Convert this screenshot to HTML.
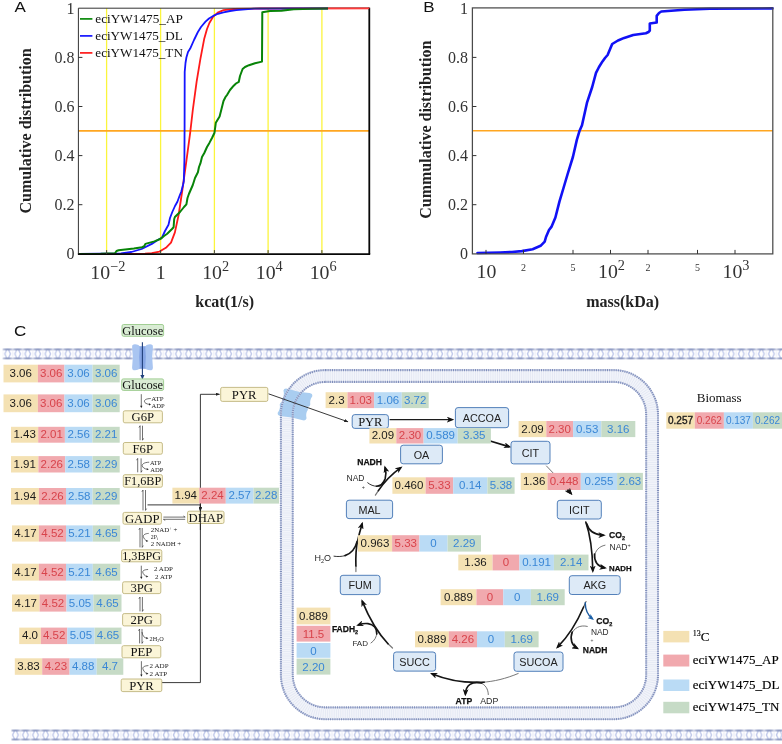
<!DOCTYPE html>
<html><head><meta charset="utf-8"><title>Figure</title>
<style>
html,body{margin:0;padding:0;background:#fff;}
svg{display:block;}
.se{font-family:"Liberation Serif",serif;}
.sa{font-family:"Liberation Sans",sans-serif;}
</style></head><body>
<svg width="782" height="744" viewBox="0 0 782 744">
<defs>
<marker id="ah" viewBox="0 0 10 8" refX="6.5" refY="4" markerWidth="7.4" markerHeight="5.9" markerUnits="userSpaceOnUse" orient="auto"><path d="M0,0 L10,4 L0,8 L2.6,4 z" fill="#111"/></marker>
<marker id="ahb" viewBox="0 0 10 8" refX="6.5" refY="4" markerWidth="6.4" markerHeight="5.1" markerUnits="userSpaceOnUse" orient="auto"><path d="M0,0 L10,4 L0,8 L2.6,4 z" fill="#1b5fa6"/></marker>
<marker id="as" viewBox="0 0 10 8" refX="9" refY="4" markerWidth="4.2" markerHeight="3.4" markerUnits="userSpaceOnUse" orient="auto"><path d="M0,0 L10,4 L0,8 z" fill="#222"/></marker>
<marker id="at" viewBox="0 0 10 8" refX="9" refY="4" markerWidth="2.6" markerHeight="2.2" markerUnits="userSpaceOnUse" orient="auto"><path d="M0,0 L10,4 L0,8 z" fill="#222"/></marker>
<pattern id="mem" x="2.6" y="348.4" width="10.05" height="11" patternUnits="userSpaceOnUse">
<path d="M4.15,1.5 L2.2,5.5 L4.15,9.5 M5.9,1.5 L7.85,5.5 L5.9,9.5" fill="none" stroke="#bcc5e9" stroke-width="1.3" stroke-linejoin="round"/>
<path d="M0,2.4 V8.6 M10.05,2.4 V8.6" fill="none" stroke="#eef0f9" stroke-width="1.4"/>
<ellipse cx="5.02" cy="1.0" rx="5.3" ry="0.85" fill="#7180b2"/><ellipse cx="5.02" cy="10.0" rx="5.3" ry="0.85" fill="#7180b2"/>
</pattern>
<pattern id="mem2" x="10.4" y="729.5" width="10.05" height="11" patternUnits="userSpaceOnUse">
<path d="M4.15,1.5 L2.2,5.5 L4.15,9.5 M5.9,1.5 L7.85,5.5 L5.9,9.5" fill="none" stroke="#bcc5e9" stroke-width="1.3" stroke-linejoin="round"/>
<path d="M0,2.4 V8.6 M10.05,2.4 V8.6" fill="none" stroke="#eef0f9" stroke-width="1.4"/>
<ellipse cx="5.02" cy="1.0" rx="5.3" ry="0.85" fill="#7180b2"/><ellipse cx="5.02" cy="10.0" rx="5.3" ry="0.85" fill="#7180b2"/>
</pattern>
</defs>
<rect width="782" height="744" fill="#fff"/>

<g id="plotA">
<line x1="106.6" y1="8.2" x2="106.6" y2="254.1" stroke="#fbf53c" stroke-width="1.3"/>
<line x1="160.6" y1="8.2" x2="160.6" y2="254.1" stroke="#fbf53c" stroke-width="1.3"/>
<line x1="214.4" y1="8.2" x2="214.4" y2="254.1" stroke="#fbf53c" stroke-width="1.3"/>
<line x1="268.1" y1="8.2" x2="268.1" y2="254.1" stroke="#fbf53c" stroke-width="1.3"/>
<line x1="321.9" y1="8.2" x2="321.9" y2="254.1" stroke="#fbf53c" stroke-width="1.3"/>
<line x1="78.4" y1="130.9" x2="369.3" y2="130.9" stroke="#ffa620" stroke-width="1.6"/>
<polyline points="79.0,253.9 145.0,253.7 151.8,253.2 159.5,251.6 165.9,247.8 171.0,242.6 174.9,232.4 178.7,214.5 182.5,189.0 186.4,160.8 190.2,132.7 192.8,110.0 196.6,81.8 200.4,58.8 204.3,38.4 207.0,29.0 209.4,23.0 213.2,16.6 218.3,12.3 223.5,10.2 233.7,9.0 260.0,8.5 369.5,8.4" fill="none" stroke="#ff1a1a" stroke-width="1.8" stroke-linejoin="round"/>
<polyline points="79.0,253.9 121.0,253.5 131.4,252.0 141.6,249.0 151.8,243.9 157.0,240.5 162.0,237.5 165.0,231.0 168.5,224.7 170.0,218.0 172.3,212.0 175.0,206.0 177.4,201.7 179.5,196.0 181.3,191.5 183.0,185.0 183.8,181.3 184.4,160.0 184.6,125.0 184.7,72.0 185.5,63.0 186.4,57.5 188.0,52.0 190.2,48.6 194.0,40.0 197.9,32.0 201.0,27.0 205.5,21.7 209.0,18.5 213.2,15.9 218.0,13.8 223.5,12.3 230.0,11.0 236.2,10.2 245.0,9.3 254.0,8.7 300.0,8.5 328.0,8.5" fill="none" stroke="#1515ff" stroke-width="1.8" stroke-linejoin="round"/>
<polyline points="79.0,253.9 100.7,253.7 115.0,253.2 116.5,251.0 118.6,250.3 133.9,248.5 142.0,247.2 144.2,246.3 145.4,243.9 154.4,241.4 160.8,238.8 164.0,236.0 167.2,233.7 172.0,229.0 173.6,227.3 174.2,219.0 174.9,217.0 180.0,212.0 184.0,207.0 186.4,204.3 187.5,198.0 188.9,194.0 192.8,185.0 195.0,178.0 197.9,172.3 199.0,167.0 200.4,163.4 202.0,157.0 204.3,153.0 207.0,147.0 209.4,142.9 212.0,138.0 214.5,132.7 215.8,122.8 219.6,116.4 221.5,109.0 223.5,101.0 225.5,97.0 227.3,94.6 230.0,90.0 233.7,85.7 236.0,83.5 238.8,81.8 240.0,76.0 242.6,69.0 245.0,67.0 249.0,65.2 255.0,63.2 262.0,61.6 262.3,12.2 270.0,11.0 281.5,10.7 293.8,9.3 312.0,8.7 328.0,8.5" fill="none" stroke="#088408" stroke-width="2" stroke-linejoin="round"/>
<path d="M78.4,254.1 V8.2 H369.3" fill="none" stroke="#333" stroke-width="1"/>
<path d="M77.9,254.1 H370.2" fill="none" stroke="#080808" stroke-width="1.8"/>
<path d="M369.3,254.1 V7.699999999999999" fill="none" stroke="#080808" stroke-width="1.8"/>
<line x1="328" y1="8.3" x2="369.3" y2="8.3" stroke="#ff3a3a" stroke-width="1.3"/>
<line x1="78.4" y1="204.7" x2="82.4" y2="204.7" stroke="#333" stroke-width="1"/>
<line x1="78.4" y1="155.6" x2="82.4" y2="155.6" stroke="#333" stroke-width="1"/>
<line x1="78.4" y1="106.5" x2="82.4" y2="106.5" stroke="#333" stroke-width="1"/>
<line x1="78.4" y1="57.4" x2="82.4" y2="57.4" stroke="#333" stroke-width="1"/>
<line x1="106.6" y1="254.1" x2="106.6" y2="250.1" stroke="#444" stroke-width="1"/>
<line x1="160.6" y1="254.1" x2="160.6" y2="250.1" stroke="#444" stroke-width="1"/>
<line x1="214.4" y1="254.1" x2="214.4" y2="250.1" stroke="#444" stroke-width="1"/>
<line x1="268.1" y1="254.1" x2="268.1" y2="250.1" stroke="#444" stroke-width="1"/>
<line x1="321.9" y1="254.1" x2="321.9" y2="250.1" stroke="#444" stroke-width="1"/>
<text class="se" x="74.6" y="259.4" font-size="16" text-anchor="end" fill="#333">0</text>
<text class="se" x="74.6" y="210.3" font-size="16" text-anchor="end" fill="#333">0.2</text>
<text class="se" x="74.6" y="161.2" font-size="16" text-anchor="end" fill="#333">0.4</text>
<text class="se" x="74.6" y="112.1" font-size="16" text-anchor="end" fill="#333">0.6</text>
<text class="se" x="74.6" y="63.0" font-size="16" text-anchor="end" fill="#333">0.8</text>
<text class="se" x="74.6" y="13.9" font-size="16" text-anchor="end" fill="#333">1</text>
<text class="se" x="107.8" y="278.6" font-size="19.8" text-anchor="middle" fill="#333">10<tspan font-size="14.3" dy="-7.6">−2</tspan></text>
<text class="se" x="215.6" y="278.6" font-size="19.8" text-anchor="middle" fill="#333">10<tspan font-size="14.3" dy="-7.6">2</tspan></text>
<text class="se" x="269.3" y="278.6" font-size="19.8" text-anchor="middle" fill="#333">10<tspan font-size="14.3" dy="-7.6">4</tspan></text>
<text class="se" x="323.09999999999997" y="278.6" font-size="19.8" text-anchor="middle" fill="#333">10<tspan font-size="14.3" dy="-7.6">6</tspan></text>
<text class="se" x="160.6" y="278.6" font-size="19.8" text-anchor="middle" fill="#333">1</text>
<text class="se" x="224.7" y="306.5" font-size="16" font-weight="bold" text-anchor="middle" fill="#222">kcat(1/s)</text>
<text class="se" transform="translate(31.2,130.9) rotate(-90)" font-size="16.05" font-weight="bold" text-anchor="middle" fill="#222">Cumulative distribution</text>
<text class="sa" transform="translate(14.4,11.8) scale(1.15,1)" font-size="14.8" fill="#111">A</text>
<line x1="80" y1="18.9" x2="92.4" y2="18.9" stroke="#0a8a0a" stroke-width="1.7"/>
<text class="se" x="95.3" y="23.2" font-size="12.9" fill="#111" textLength="87.6" lengthAdjust="spacingAndGlyphs">eciYW1475_AP</text>
<line x1="80" y1="35.900000000000006" x2="92.4" y2="35.900000000000006" stroke="#1515ff" stroke-width="1.7"/>
<text class="se" x="95.3" y="40.2" font-size="12.9" fill="#111" textLength="87.6" lengthAdjust="spacingAndGlyphs">eciYW1475_DL</text>
<line x1="80" y1="52.900000000000006" x2="92.4" y2="52.900000000000006" stroke="#ff1a1a" stroke-width="1.7"/>
<text class="se" x="95.3" y="57.2" font-size="12.9" fill="#111" textLength="87.6" lengthAdjust="spacingAndGlyphs">eciYW1475_TN</text>
</g>
<g id="plotB">
<line x1="472.4" y1="130.8" x2="772.8" y2="130.8" stroke="#ffa620" stroke-width="1.6"/>
<polyline points="477.5,253.0 500.3,252.5 512.0,252.0 521.8,251.1 532.6,249.2 540.6,245.8 544.7,241.7 546.0,237.0 547.4,233.7 549.0,230.0 551.4,226.9 555.4,217.5 559.5,201.4 563.5,188.0 567.5,174.5 572.9,157.0 576.9,139.6 579.6,130.7 582.0,125.3 587.1,102.3 592.2,87.0 596.0,72.9 599.0,67.0 602.5,61.4 605.0,58.0 607.6,55.0 612.2,44.0 618.0,40.5 624.2,37.9 633.2,35.0 645.9,33.2 648.5,32.0 649.8,30.7 649.8,23.5 656.7,22.5 656.7,15.9 659.0,13.0 661.3,11.5 684.3,9.7 709.9,8.7 772.5,8.4" fill="none" stroke="#1111f5" stroke-width="2.6" stroke-linejoin="round" stroke-linecap="round"/>
<rect x="472.4" y="7.9" width="300.4" height="246.0" fill="none" stroke="#4a4a4a" stroke-width="1.25"/>
<line x1="472.4" y1="204.7" x2="476.4" y2="204.7" stroke="#333" stroke-width="1"/>
<line x1="472.4" y1="155.6" x2="476.4" y2="155.6" stroke="#333" stroke-width="1"/>
<line x1="472.4" y1="106.5" x2="476.4" y2="106.5" stroke="#333" stroke-width="1"/>
<line x1="472.4" y1="57.4" x2="476.4" y2="57.4" stroke="#333" stroke-width="1"/>
<text class="se" x="468" y="259.4" font-size="16" text-anchor="end" fill="#333">0</text>
<text class="se" x="468" y="210.3" font-size="16" text-anchor="end" fill="#333">0.2</text>
<text class="se" x="468" y="161.2" font-size="16" text-anchor="end" fill="#333">0.4</text>
<text class="se" x="468" y="112.1" font-size="16" text-anchor="end" fill="#333">0.6</text>
<text class="se" x="468" y="63.0" font-size="16" text-anchor="end" fill="#333">0.8</text>
<text class="se" x="468" y="13.9" font-size="16" text-anchor="end" fill="#333">1</text>
<line x1="486.0" y1="253.9" x2="486.0" y2="249.9" stroke="#333" stroke-width="1"/>
<line x1="523.5" y1="253.9" x2="523.5" y2="249.9" stroke="#333" stroke-width="1"/>
<line x1="573.0" y1="253.9" x2="573.0" y2="249.9" stroke="#333" stroke-width="1"/>
<line x1="610.5" y1="253.9" x2="610.5" y2="249.9" stroke="#333" stroke-width="1"/>
<line x1="648.0" y1="253.9" x2="648.0" y2="249.9" stroke="#333" stroke-width="1"/>
<line x1="697.5" y1="253.9" x2="697.5" y2="249.9" stroke="#333" stroke-width="1"/>
<line x1="735.0" y1="253.9" x2="735.0" y2="249.9" stroke="#333" stroke-width="1"/>
<text class="se" x="486.5" y="277.7" font-size="19.8" text-anchor="middle" fill="#333">10</text>
<text class="se" x="611.5" y="277.7" font-size="19.8" text-anchor="middle" fill="#333">10<tspan font-size="14.3" dy="-7.6">2</tspan></text>
<text class="se" x="736.0" y="277.7" font-size="19.8" text-anchor="middle" fill="#333">10<tspan font-size="14.3" dy="-7.6">3</tspan></text>
<text class="se" x="523.5" y="270.5" font-size="10" text-anchor="middle" fill="#333">2</text>
<text class="se" x="573.0" y="270.5" font-size="10" text-anchor="middle" fill="#333">5</text>
<text class="se" x="648.0" y="270.5" font-size="10" text-anchor="middle" fill="#333">2</text>
<text class="se" x="697.5" y="270.5" font-size="10" text-anchor="middle" fill="#333">5</text>
<text class="se" x="622.6" y="306.5" font-size="16" font-weight="bold" text-anchor="middle" fill="#222">mass(kDa)</text>
<text class="se" transform="translate(431.2,129.7) rotate(-90)" font-size="16" font-weight="bold" text-anchor="middle" fill="#222">Cummulative distribution</text>
<text class="sa" transform="translate(423.2,12.3) scale(1.15,1)" font-size="14.8" fill="#111">B</text>
</g>
<g id="panelC">
<text class="sa" transform="translate(13.9,335.8) scale(1.15,1)" font-size="14.8" fill="#111">C</text>
<rect x="2.6" y="348.4" width="779.4" height="11" fill="url(#mem)"/>
<rect x="11.4" y="729.5" width="770.6" height="11" fill="url(#mem2)"/>
<rect x="286.8" y="376.0" width="365.3" height="337.29999999999995" rx="38.6" ry="38.6" fill="none" stroke="#f2f4fa" stroke-width="11.5"/>
<rect x="286.8" y="376.0" width="365.3" height="337.29999999999995" rx="38.6" ry="38.6" fill="none" stroke="#e3e7f3" stroke-width="9.6" stroke-dasharray="0.8 1.4"/>
<g transform="translate(295.7,404.6) rotate(11)"><path d="M-11.4,-14 Q0,-12.6 11.4,-14 Q14.6,-14.1 14.7,-11.4 Q12.6,-7 14.3,-3 Q14.6,-0.6 12,0 Q0,0.6 -12,0 Q-14.6,-0.6 -14.3,-3 Q-12.6,-7 -14.7,-11.4 Q-14.6,-14.1 -11.4,-14 Z" fill="#a9cdf0"/><path transform="translate(-1.4,0) scale(1,-1)" d="M-11.4,-14 Q0,-12.6 11.4,-14 Q14.6,-14.1 14.7,-11.4 Q12.6,-7 14.3,-3 Q14.6,-0.6 12,0 Q0,0.6 -12,0 Q-14.6,-0.6 -14.3,-3 Q-12.6,-7 -14.7,-11.4 Q-14.6,-14.1 -11.4,-14 Z" fill="#a9cdf0"/></g>
<rect x="280.90000000000003" y="370.1" width="377.1" height="349.09999999999997" rx="44.5" ry="44.5" fill="none" stroke="#c6cde4" stroke-width="1.5"/>
<rect x="280.90000000000003" y="370.1" width="377.1" height="349.09999999999997" rx="44.5" ry="44.5" fill="none" stroke="#7f8eba" stroke-width="2.1" stroke-dasharray="1.0 1.2"/>
<rect x="292.7" y="381.9" width="353.5" height="325.49999999999994" rx="32.7" ry="32.7" fill="none" stroke="#c6cde4" stroke-width="1.5"/>
<rect x="292.7" y="381.9" width="353.5" height="325.49999999999994" rx="32.7" ry="32.7" fill="none" stroke="#7f8eba" stroke-width="2.1" stroke-dasharray="1.0 1.2"/>
<path d="M162,682.6 H200.4 V394.3 H219.5" stroke="#222" stroke-width="0.9" fill="none" marker-end="url(#as)"/>
<path d="M147.5,504.9 H200.4 V510.5" stroke="#222" stroke-width="0.9" fill="none" marker-end="url(#as)"/>
<path d="M268.5,393.8 L348,421.8" stroke="#222" stroke-width="0.9" fill="none" marker-end="url(#as)"/>
<rect x="139" y="346.2" width="7.4" height="22.6" fill="#86a6e5"/>
<path d="M133.6,344.4 Q136,344 138.4,345 Q140,345.8 139.7,348 Q138.6,357 139.7,366.6 Q140,368.8 138.4,369.6 Q136,370.6 133.6,370.2 Q131.8,369.8 132.1,367.6 Q133.6,357 132.1,347 Q131.8,344.8 133.6,344.4 Z" fill="#a9c5f1"/>
<path d="M151.4,344.4 Q149,344 146.6,345 Q145,345.8 145.3,348 Q146.4,357 145.3,366.6 Q145,368.8 146.6,369.6 Q149,370.6 151.4,370.2 Q153.2,369.8 152.9,367.6 Q151.4,357 152.9,347 Q153.2,344.8 151.4,344.4 Z" fill="#a9c5f1"/>
<path d="M142.4,342.3 V376" stroke="#1f3f7a" stroke-width="1.1" fill="none"/><path d="M140.4,375 L142.4,379.7 L144.4,375 Z" fill="#1f3f7a"/>
<rect x="122.0" y="324.5" width="41.6" height="11.8" rx="1.6" fill="#d9ecd4" stroke="#98c98a" stroke-width="0.9"/>
<text class="se" x="142.8" y="334.6" font-size="12.5" text-anchor="middle" fill="#111">Glucose</text>
<rect x="121.7" y="378.9" width="41.9" height="11.5" rx="1.6" fill="#d9ecd4" stroke="#98c98a" stroke-width="0.9"/>
<text class="se" x="142.7" y="388.9" font-size="12.5" text-anchor="middle" fill="#111">Glucose</text>
<rect x="123.3" y="410.8" width="39.1" height="12.0" rx="1.6" fill="#fbf5d8" stroke="#c0b67e" stroke-width="0.9"/>
<text class="se" x="142.8" y="421.1" font-size="12.7" text-anchor="middle" fill="#111">G6P</text>
<rect x="123.3" y="442.5" width="39.1" height="11.7" rx="1.6" fill="#fbf5d8" stroke="#c0b67e" stroke-width="0.9"/>
<text class="se" x="142.8" y="452.7" font-size="12.7" text-anchor="middle" fill="#111">F6P</text>
<rect x="123.3" y="474.7" width="39.1" height="12.5" rx="1.6" fill="#fbf5d8" stroke="#c0b67e" stroke-width="0.9"/>
<text class="se" x="142.8" y="485.1" font-size="12.2" text-anchor="middle" fill="#111">F1,6BP</text>
<rect x="123.0" y="512.4" width="38.4" height="11.8" rx="1.6" fill="#fbf5d8" stroke="#c0b67e" stroke-width="0.9"/>
<text class="se" x="142.2" y="522.6" font-size="12.7" text-anchor="middle" fill="#111">GADP</text>
<rect x="187.5" y="511.2" width="36.5" height="12.3" rx="1.6" fill="#fbf5d8" stroke="#c0b67e" stroke-width="0.9"/>
<text class="se" x="205.8" y="521.7" font-size="12.7" text-anchor="middle" fill="#111">DHAP</text>
<rect x="121.6" y="549.8" width="40.2" height="12.0" rx="1.6" fill="#fbf5d8" stroke="#c0b67e" stroke-width="0.9"/>
<text class="se" x="141.7" y="559.9" font-size="12.2" text-anchor="middle" fill="#111">1,3BPG</text>
<rect x="122.6" y="581.8" width="38.2" height="11.8" rx="1.6" fill="#fbf5d8" stroke="#c0b67e" stroke-width="0.9"/>
<text class="se" x="141.7" y="592.0" font-size="12.7" text-anchor="middle" fill="#111">3PG</text>
<rect x="122.6" y="613.6" width="38.2" height="12.3" rx="1.6" fill="#fbf5d8" stroke="#c0b67e" stroke-width="0.9"/>
<text class="se" x="141.7" y="624.1" font-size="12.7" text-anchor="middle" fill="#111">2PG</text>
<rect x="122.0" y="645.7" width="38.8" height="12.1" rx="1.6" fill="#fbf5d8" stroke="#c0b67e" stroke-width="0.9"/>
<text class="se" x="141.4" y="656.1" font-size="12.7" text-anchor="middle" fill="#111">PEP</text>
<rect x="121.2" y="679.0" width="40.6" height="12.6" rx="1.6" fill="#fbf5d8" stroke="#c0b67e" stroke-width="0.9"/>
<text class="se" x="141.5" y="689.6" font-size="12.7" text-anchor="middle" fill="#111">PYR</text>
<rect x="220.7" y="387.4" width="47.1" height="14.0" rx="1.6" fill="#fbf5d8" stroke="#c0b67e" stroke-width="0.9"/>
<text class="se" x="244.2" y="398.7" font-size="12.7" text-anchor="middle" fill="#111">PYR</text>
<path d="M200.4,505 V530" stroke="#222" stroke-width="0.9" fill="none"/>
<path d="M141.3,394.2 V407.0" stroke="#333" stroke-width="0.7" fill="none"/><path d="M140.20000000000002,405.8 L141.3,408.2 L142.4,405.8 Z" fill="#222"/>
<path d="M150.8,398.5 C146.0,398.7 144.4,399.90000000000003 144.4,401.3 C144.6,403.1 146.6,404.09999999999997 149.8,404.4" stroke="#333" stroke-width="0.7" fill="none"/>
<path d="M149,403.34999999999997 L151,404.4 L149,405.45 Z" fill="#222"/>
<path d="M140.1,440.2 V425.7 l-1.1,1.8" stroke="#333" stroke-width="0.7" fill="none"/><path d="M142.5,425.7 V440.2 l1.1,-1.8" stroke="#333" stroke-width="0.7" fill="none"/>
<path d="M137.7,472.3 V458.4 l-1.1,1.8" stroke="#333" stroke-width="0.7" fill="none"/><path d="M141.1,458.4 V472.3 l1.1,-1.8" stroke="#333" stroke-width="0.7" fill="none"/>
<path d="M149.2,462.2 C143.79999999999998,462.4 142.2,464.20000000000005 142.2,465.6 C142.39999999999998,467.40000000000003 144.39999999999998,469.0 147.60000000000002,469.3" stroke="#333" stroke-width="0.7" fill="none"/>
<path d="M146.8,468.25 L148.8,469.3 L146.8,470.35 Z" fill="#222"/>
<path d="M143.0,510.4 V490 l-1.1,1.8" stroke="#333" stroke-width="0.7" fill="none"/><path d="M145.5,490 V510.4 l1.1,-1.8" stroke="#333" stroke-width="0.7" fill="none"/>
<path d="M163.4,517.1 H185.2 l-1.8,-1.1" stroke="#333" stroke-width="0.7" fill="none"/><path d="M185.2,519.3 H163.4 l1.8,1.1" stroke="#333" stroke-width="0.7" fill="none"/>
<path d="M140.0,547.4 V528 l-1.1,1.8" stroke="#333" stroke-width="0.7" fill="none"/><path d="M142.2,528 V547.4 l1.1,-1.8" stroke="#333" stroke-width="0.7" fill="none"/>
<path d="M148.7,533.4 C144.9,533.6 143.3,535.0 143.3,536.4 C143.5,538.1999999999999 145.5,540.7 147.10000000000002,541" stroke="#333" stroke-width="0.7" fill="none"/>
<path d="M146.3,539.95 L148.3,541 L146.3,542.05 Z" fill="#222"/>
<path d="M141.3,565.7 V578.0" stroke="#333" stroke-width="0.7" fill="none"/><path d="M140.20000000000002,576.8000000000001 L141.3,579.2 L142.4,576.8000000000001 Z" fill="#222"/>
<path d="M148.1,569.5 C144.29999999999998,569.7 142.7,570.6 142.7,572 C142.89999999999998,573.8 144.89999999999998,576.2 147.10000000000002,576.5" stroke="#333" stroke-width="0.7" fill="none"/>
<path d="M146.3,575.45 L148.3,576.5 L146.3,577.55 Z" fill="#222"/>
<path d="M140.0,611.4 V597 l-1.1,1.8" stroke="#333" stroke-width="0.7" fill="none"/><path d="M142.4,597 V611.4 l1.1,-1.8" stroke="#333" stroke-width="0.7" fill="none"/>
<path d="M139.6,643.4 V629 l-1.1,1.8" stroke="#333" stroke-width="0.7" fill="none"/><path d="M142.0,629 V643.4 l1.1,-1.8" stroke="#333" stroke-width="0.7" fill="none"/>
<path d="M142,632 C142.6,636 144.2,638 147,638.2" stroke="#333" stroke-width="0.7" fill="none"/><path d="M146.4,637.1 L148.4,638.2 L146.4,639.3 Z" fill="#222"/>
<path d="M141.4,661.2 V675.5999999999999" stroke="#333" stroke-width="0.7" fill="none"/><path d="M140.3,674.4 L141.4,676.8 L142.5,674.4 Z" fill="#222"/>
<path d="M148.4,665.6 C144.4,665.8000000000001 142.8,667.0 142.8,668.4 C143.0,670.1999999999999 145.0,673.3000000000001 147.20000000000002,673.6" stroke="#333" stroke-width="0.7" fill="none"/>
<path d="M146.4,672.5500000000001 L148.4,673.6 L146.4,674.65 Z" fill="#222"/>
<text class="se" x="151.2" y="400.9" font-size="6.4" fill="#222" textLength="12.4" lengthAdjust="spacingAndGlyphs">ATP</text>
<text class="se" x="151.6" y="407.7" font-size="6.4" fill="#222" textLength="13.2" lengthAdjust="spacingAndGlyphs">ADP</text>
<text class="se" x="149.9" y="465.1" font-size="6.2" fill="#222" textLength="11.4" lengthAdjust="spacingAndGlyphs">ATP</text>
<text class="se" x="150.3" y="472" font-size="6.2" fill="#222" textLength="13.2" lengthAdjust="spacingAndGlyphs">ADP</text>
<text class="se" x="150.8" y="532.2" font-size="5.8" fill="#222" textLength="26.6" lengthAdjust="spacingAndGlyphs">2NAD<tspan font-size="3.8" dy="-2">+</tspan><tspan dy="2"> +</tspan></text>
<text class="se" x="150.8" y="539.1" font-size="5.8" fill="#222">2P<tspan font-size="3.8" dy="0.8">i</tspan></text>
<text class="se" x="150.8" y="546.2" font-size="5.8" fill="#222" textLength="30.4" lengthAdjust="spacingAndGlyphs">2 NADH +</text>
<text class="se" x="154" y="570.8" font-size="6.2" fill="#222" textLength="18.8" lengthAdjust="spacingAndGlyphs">2 ADP</text>
<text class="se" x="155.1" y="578.7" font-size="6.2" fill="#222" textLength="17.2" lengthAdjust="spacingAndGlyphs">2 ATP</text>
<text class="se" x="149.6" y="640.6" font-size="6.2" fill="#222">2H<tspan font-size="4" dy="1">2</tspan><tspan dy="-1">O</tspan></text>
<text class="se" x="149.6" y="668" font-size="6.2" fill="#222" textLength="19" lengthAdjust="spacingAndGlyphs">2 ADP</text>
<text class="se" x="149.6" y="676.4" font-size="6.2" fill="#222" textLength="17.6" lengthAdjust="spacingAndGlyphs">2 ATP</text>
<rect x="3.5" y="364.7" width="34.4" height="17.7" fill="#f4e1b3"/>
<rect x="37.9" y="364.7" width="26.6" height="17.7" fill="#f1a9ae"/>
<rect x="64.5" y="364.7" width="28.1" height="17.7" fill="#badbf5"/>
<rect x="92.6" y="364.7" width="27.1" height="17.7" fill="#c6dbc6"/>
<text class="sa" x="20.7" y="377.1" font-size="11.5" text-anchor="middle" fill="#1a1a1a">3.06</text>
<text class="sa" x="51.2" y="377.1" font-size="11.5" text-anchor="middle" fill="#d8434b">3.06</text>
<text class="sa" x="78.5" y="377.1" font-size="11.5" text-anchor="middle" fill="#3a87d6">3.06</text>
<text class="sa" x="106.2" y="377.1" font-size="11.5" text-anchor="middle" fill="#3a87d6">3.06</text>
<rect x="3.5" y="394.4" width="34.4" height="17.8" fill="#f4e1b3"/>
<rect x="37.9" y="394.4" width="26.6" height="17.8" fill="#f1a9ae"/>
<rect x="64.5" y="394.4" width="28.1" height="17.8" fill="#badbf5"/>
<rect x="92.6" y="394.4" width="27.1" height="17.8" fill="#c6dbc6"/>
<text class="sa" x="20.7" y="406.9" font-size="11.5" text-anchor="middle" fill="#1a1a1a">3.06</text>
<text class="sa" x="51.2" y="406.9" font-size="11.5" text-anchor="middle" fill="#d8434b">3.06</text>
<text class="sa" x="78.5" y="406.9" font-size="11.5" text-anchor="middle" fill="#3a87d6">3.06</text>
<text class="sa" x="106.2" y="406.9" font-size="11.5" text-anchor="middle" fill="#3a87d6">3.06</text>
<rect x="11" y="426.8" width="27.2" height="15.9" fill="#f4e1b3"/>
<rect x="38.2" y="426.8" width="26.7" height="15.9" fill="#f1a9ae"/>
<rect x="64.9" y="426.8" width="27.5" height="15.9" fill="#badbf5"/>
<rect x="92.4" y="426.8" width="27.3" height="15.9" fill="#c6dbc6"/>
<text class="sa" x="24.6" y="438.3" font-size="11.5" text-anchor="middle" fill="#1a1a1a">1.43</text>
<text class="sa" x="51.6" y="438.3" font-size="11.5" text-anchor="middle" fill="#d8434b">2.01</text>
<text class="sa" x="78.7" y="438.3" font-size="11.5" text-anchor="middle" fill="#3a87d6">2.56</text>
<text class="sa" x="106.1" y="438.3" font-size="11.5" text-anchor="middle" fill="#3a87d6">2.21</text>
<rect x="11" y="456.1" width="27.4" height="16.4" fill="#f4e1b3"/>
<rect x="38.4" y="456.1" width="26.8" height="16.4" fill="#f1a9ae"/>
<rect x="65.2" y="456.1" width="27.3" height="16.4" fill="#badbf5"/>
<rect x="92.5" y="456.1" width="27.2" height="16.4" fill="#c6dbc6"/>
<text class="sa" x="24.7" y="467.9" font-size="11.5" text-anchor="middle" fill="#1a1a1a">1.91</text>
<text class="sa" x="51.8" y="467.9" font-size="11.5" text-anchor="middle" fill="#d8434b">2.26</text>
<text class="sa" x="78.8" y="467.9" font-size="11.5" text-anchor="middle" fill="#3a87d6">2.58</text>
<text class="sa" x="106.1" y="467.9" font-size="11.5" text-anchor="middle" fill="#3a87d6">2.29</text>
<rect x="11" y="488" width="27.9" height="16.5" fill="#f4e1b3"/>
<rect x="38.9" y="488" width="27.1" height="16.5" fill="#f1a9ae"/>
<rect x="66" y="488" width="26.6" height="16.5" fill="#badbf5"/>
<rect x="92.6" y="488" width="27.1" height="16.5" fill="#c6dbc6"/>
<text class="sa" x="24.9" y="499.8" font-size="11.5" text-anchor="middle" fill="#1a1a1a">1.94</text>
<text class="sa" x="52.5" y="499.8" font-size="11.5" text-anchor="middle" fill="#d8434b">2.26</text>
<text class="sa" x="79.3" y="499.8" font-size="11.5" text-anchor="middle" fill="#3a87d6">2.58</text>
<text class="sa" x="106.2" y="499.8" font-size="11.5" text-anchor="middle" fill="#3a87d6">2.29</text>
<rect x="12" y="525.4" width="26.9" height="16.2" fill="#f4e1b3"/>
<rect x="38.9" y="525.4" width="27.1" height="16.2" fill="#f1a9ae"/>
<rect x="66" y="525.4" width="26.8" height="16.2" fill="#badbf5"/>
<rect x="92.8" y="525.4" width="27.4" height="16.2" fill="#c6dbc6"/>
<text class="sa" x="25.4" y="537.1" font-size="11.5" text-anchor="middle" fill="#1a1a1a">4.17</text>
<text class="sa" x="52.5" y="537.1" font-size="11.5" text-anchor="middle" fill="#d8434b">4.52</text>
<text class="sa" x="79.4" y="537.1" font-size="11.5" text-anchor="middle" fill="#3a87d6">5.21</text>
<text class="sa" x="106.5" y="537.1" font-size="11.5" text-anchor="middle" fill="#3a87d6">4.65</text>
<rect x="12" y="563.7" width="26.9" height="16.9" fill="#f4e1b3"/>
<rect x="38.9" y="563.7" width="27.1" height="16.9" fill="#f1a9ae"/>
<rect x="66" y="563.7" width="26.8" height="16.9" fill="#badbf5"/>
<rect x="92.8" y="563.7" width="27.4" height="16.9" fill="#c6dbc6"/>
<text class="sa" x="25.4" y="575.7" font-size="11.5" text-anchor="middle" fill="#1a1a1a">4.17</text>
<text class="sa" x="52.5" y="575.7" font-size="11.5" text-anchor="middle" fill="#d8434b">4.52</text>
<text class="sa" x="79.4" y="575.7" font-size="11.5" text-anchor="middle" fill="#3a87d6">5.21</text>
<text class="sa" x="106.5" y="575.7" font-size="11.5" text-anchor="middle" fill="#3a87d6">4.65</text>
<rect x="12" y="594.5" width="27.6" height="17.1" fill="#f4e1b3"/>
<rect x="39.6" y="594.5" width="26.9" height="17.1" fill="#f1a9ae"/>
<rect x="66.5" y="594.5" width="26.9" height="17.1" fill="#badbf5"/>
<rect x="93.4" y="594.5" width="28.1" height="17.1" fill="#c6dbc6"/>
<text class="sa" x="25.8" y="606.6" font-size="11.5" text-anchor="middle" fill="#1a1a1a">4.17</text>
<text class="sa" x="53.0" y="606.6" font-size="11.5" text-anchor="middle" fill="#d8434b">4.52</text>
<text class="sa" x="80.0" y="606.6" font-size="11.5" text-anchor="middle" fill="#3a87d6">5.05</text>
<text class="sa" x="107.5" y="606.6" font-size="11.5" text-anchor="middle" fill="#3a87d6">4.65</text>
<rect x="19.2" y="627.6" width="21.7" height="16.5" fill="#f4e1b3"/>
<rect x="40.9" y="627.6" width="26.4" height="16.5" fill="#f1a9ae"/>
<rect x="67.3" y="627.6" width="27.3" height="16.5" fill="#badbf5"/>
<rect x="94.6" y="627.6" width="26.9" height="16.5" fill="#c6dbc6"/>
<text class="sa" x="30.0" y="639.4" font-size="11.5" text-anchor="middle" fill="#1a1a1a">4.0</text>
<text class="sa" x="54.1" y="639.4" font-size="11.5" text-anchor="middle" fill="#d8434b">4.52</text>
<text class="sa" x="80.9" y="639.4" font-size="11.5" text-anchor="middle" fill="#3a87d6">5.05</text>
<text class="sa" x="108.0" y="639.4" font-size="11.5" text-anchor="middle" fill="#3a87d6">4.65</text>
<rect x="14.8" y="658.3" width="27.4" height="16.5" fill="#f4e1b3"/>
<rect x="42.2" y="658.3" width="27.4" height="16.5" fill="#f1a9ae"/>
<rect x="69.6" y="658.3" width="27.1" height="16.5" fill="#badbf5"/>
<rect x="96.7" y="658.3" width="26.6" height="16.5" fill="#c6dbc6"/>
<text class="sa" x="28.5" y="670.1" font-size="11.5" text-anchor="middle" fill="#1a1a1a">3.83</text>
<text class="sa" x="55.9" y="670.1" font-size="11.5" text-anchor="middle" fill="#d8434b">4.23</text>
<text class="sa" x="83.2" y="670.1" font-size="11.5" text-anchor="middle" fill="#3a87d6">4.88</text>
<text class="sa" x="110.0" y="670.1" font-size="11.5" text-anchor="middle" fill="#3a87d6">4.7</text>
<rect x="172.4" y="487.7" width="26.8" height="15.9" fill="#f4e1b3"/>
<rect x="199.2" y="487.7" width="26.6" height="15.9" fill="#f1a9ae"/>
<rect x="225.8" y="487.7" width="27.7" height="15.9" fill="#badbf5"/>
<rect x="253.5" y="487.7" width="25.5" height="15.9" fill="#c6dbc6"/>
<text class="sa" x="185.8" y="499.2" font-size="11.5" text-anchor="middle" fill="#1a1a1a">1.94</text>
<text class="sa" x="212.5" y="499.2" font-size="11.5" text-anchor="middle" fill="#d8434b">2.24</text>
<text class="sa" x="239.7" y="499.2" font-size="11.5" text-anchor="middle" fill="#3a87d6">2.57</text>
<text class="sa" x="266.2" y="499.2" font-size="11.5" text-anchor="middle" fill="#3a87d6">2.28</text>
<path d="M200.4,503.6 V511" stroke="#222" stroke-width="0.9" fill="none" marker-end="url(#as)"/>
<path d="M389.6,419.6 H451.6" stroke="#1c1c1c" stroke-width="1.3" fill="none" marker-end="url(#ah)"/>
<path d="M486,439.8 L508.8,446.6" stroke="#151515" stroke-width="1.65" fill="none" stroke-linecap="round" marker-end="url(#ah)"/>
<path d="M546.5,466 L556,476" stroke="#666" stroke-width="0.9" fill="none" stroke-linecap="round"/><path d="M556,476 L570.2,492.6" stroke="#151515" stroke-width="1.65" fill="none" stroke-linecap="round" marker-end="url(#ah)"/>
<path d="M375.4,495.2 L378.4,490.6" stroke="#777" stroke-width="1.2" fill="none" stroke-linecap="round"/><path d="M378.4,490.6 C384.5,481.6 392,474 400.4,467.9" stroke="#151515" stroke-width="1.65" fill="none" stroke-linecap="round" marker-end="url(#ah)"/>
<path d="M367.7,482.8 C370.5,485 373.5,486.2 376.5,486.2" stroke="#333" stroke-width="1" fill="none" stroke-linecap="round"/><path d="M376.5,486.2 C380.4,486.2 383.6,483 385.2,478.6 C386.3,475 386.2,471.4 385.2,467.9" stroke="#151515" stroke-width="1.65" fill="none" stroke-linecap="round" marker-end="url(#ah)"/>
<path d="M355.9,571.6 V566" stroke="#777" stroke-width="1.2" fill="none" stroke-linecap="round"/><path d="M355.9,566 C355.6,556 356,548 357.6,541 C358.9,535 360.4,529.6 362,524.2" stroke="#151515" stroke-width="1.65" fill="none" stroke-linecap="round" marker-end="url(#ah)"/>
<path d="M334,556.2 C338,556.8 342,556.6 345,555.6" stroke="#333" stroke-width="1" fill="none" stroke-linecap="round"/><path d="M345,555.6 C351,553.6 355.2,549 357,541.6" stroke="#151515" stroke-width="1.65" fill="none" stroke-linecap="round"/>
<path d="M392.5,648 L388,643.8" stroke="#777" stroke-width="1.2" fill="none" stroke-linecap="round"/><path d="M388,643.8 C378,633 369.5,619 362.4,601.6" stroke="#151515" stroke-width="1.65" fill="none" stroke-linecap="round" marker-end="url(#ah)"/>
<path d="M371,643 C374.6,640.6 376.6,637 376.8,633" stroke="#666" stroke-width="0.9" fill="none" stroke-linecap="round"/><path d="M376.8,634 C377,628.4 373.4,624.4 368,623.6 C364.8,623.2 361.6,623.8 358.6,624.9" stroke="#151515" stroke-width="1.65" fill="none" stroke-linecap="round" marker-end="url(#ah)"/>
<path d="M518.2,673.5 C506,678.6 494,681.6 482,682.3" stroke="#666" stroke-width="0.9" fill="none" stroke-linecap="round"/><path d="M484,682.2 C464,683.4 446,679.6 432.4,674" stroke="#151515" stroke-width="1.65" fill="none" stroke-linecap="round" marker-end="url(#ah)"/>
<path d="M488.3,694.6 C488.2,689 485.4,684.6 480.6,682.8" stroke="#666" stroke-width="0.9" fill="none" stroke-linecap="round"/><path d="M481.6,683 C472,680.6 465.8,685.4 465.4,693.8" stroke="#151515" stroke-width="1.65" fill="none" stroke-linecap="round" marker-end="url(#ah)"/>
<path d="M585.8,522 C589.6,533 592.4,546 592.8,570.4" stroke="#151515" stroke-width="1.65" fill="none" stroke-linecap="round" marker-end="url(#ah)"/>
<path d="M586.6,523.6 C588.6,530.6 594,535 603.2,535.2" stroke="#151515" stroke-width="1.65" fill="none" stroke-linecap="round" marker-end="url(#ah)"/>
<path d="M605,545.2 C599,546.4 595,550.6 594.4,557" stroke="#666" stroke-width="0.9" fill="none" stroke-linecap="round"/><path d="M594.5,554 C594.2,561.4 598,566.4 604.4,567.8" stroke="#151515" stroke-width="1.65" fill="none" stroke-linecap="round" marker-end="url(#ah)"/>
<path d="M586,601.6 L583.6,607" stroke="#555" stroke-width="1.1" fill="none" stroke-linecap="round"/><path d="M583.6,607 C577.6,621 569.6,635 557.8,646.8" stroke="#151515" stroke-width="1.65" fill="none" stroke-linecap="round" marker-end="url(#ah)"/>
<path d="M585.2,602.8 C585.4,610 588,615.4 592.2,618.6" stroke="#1b5aa0" stroke-width="1.4" fill="none" stroke-linecap="round" marker-end="url(#ahb)"/>
<path d="M587.3,626.4 C580,624.6 573.8,628 571.6,634" stroke="#666" stroke-width="0.9" fill="none" stroke-linecap="round"/><path d="M572.2,632 C569.6,639 572,645.4 576.8,648" stroke="#151515" stroke-width="1.65" fill="none" stroke-linecap="round" marker-end="url(#ah)"/>
<rect x="352.2" y="414.6" width="36.2" height="13.8" rx="2.6" fill="#ddeaf7" stroke="#4b7ab6" stroke-width="0.95"/>
<text class="se" x="370.3" y="425.8" font-size="12.5" text-anchor="middle" fill="#111">PYR</text>
<rect x="455.4" y="407.6" width="53.2" height="20.1" rx="2.6" fill="#ddeaf7" stroke="#4b7ab6" stroke-width="0.95"/>
<text class="sa" transform="translate(482.0,421.8) scale(0.94,1)" font-size="11.5" text-anchor="middle" fill="#222">ACCOA</text>
<rect x="400.6" y="445.2" width="41.8" height="18.6" rx="2.6" fill="#ddeaf7" stroke="#4b7ab6" stroke-width="0.95"/>
<text class="sa" transform="translate(421.5,458.6) scale(0.94,1)" font-size="11.5" text-anchor="middle" fill="#222">OA</text>
<rect x="511.0" y="441.3" width="39.0" height="22.6" rx="2.6" fill="#ddeaf7" stroke="#4b7ab6" stroke-width="0.95"/>
<text class="sa" transform="translate(530.5,456.7) scale(0.94,1)" font-size="11.5" text-anchor="middle" fill="#222">CIT</text>
<rect x="346.4" y="500.2" width="46.2" height="18.4" rx="2.6" fill="#ddeaf7" stroke="#4b7ab6" stroke-width="0.95"/>
<text class="sa" transform="translate(369.5,513.5) scale(0.94,1)" font-size="11.5" text-anchor="middle" fill="#222">MAL</text>
<rect x="557.3" y="500.3" width="44.0" height="18.7" rx="2.6" fill="#ddeaf7" stroke="#4b7ab6" stroke-width="0.95"/>
<text class="sa" transform="translate(579.3,513.8) scale(0.94,1)" font-size="11.5" text-anchor="middle" fill="#222">ICIT</text>
<rect x="569.3" y="575.7" width="50.9" height="18.8" rx="2.6" fill="#ddeaf7" stroke="#4b7ab6" stroke-width="0.95"/>
<text class="sa" transform="translate(594.8,589.2) scale(0.94,1)" font-size="11.5" text-anchor="middle" fill="#222">AKG</text>
<rect x="340.3" y="575.3" width="39.7" height="19.3" rx="2.6" fill="#ddeaf7" stroke="#4b7ab6" stroke-width="0.95"/>
<text class="sa" transform="translate(360.1,589.1) scale(0.94,1)" font-size="11.5" text-anchor="middle" fill="#222">FUM</text>
<rect x="393.6" y="652.0" width="42.0" height="19.1" rx="2.6" fill="#ddeaf7" stroke="#4b7ab6" stroke-width="0.95"/>
<text class="sa" transform="translate(414.6,665.7) scale(0.94,1)" font-size="11.5" text-anchor="middle" fill="#222">SUCC</text>
<rect x="514.0" y="652.0" width="49.0" height="19.3" rx="2.6" fill="#ddeaf7" stroke="#4b7ab6" stroke-width="0.95"/>
<text class="sa" transform="translate(538.5,665.8) scale(0.94,1)" font-size="11.5" text-anchor="middle" fill="#222">SUCOA</text>
<rect x="325.6" y="392.2" width="21.9" height="15.9" fill="#f4e1b3"/>
<rect x="347.5" y="392.2" width="26.6" height="15.9" fill="#f1a9ae"/>
<rect x="374.1" y="392.2" width="27.7" height="15.9" fill="#badbf5"/>
<rect x="401.8" y="392.2" width="26.9" height="15.9" fill="#c6dbc6"/>
<text class="sa" x="336.6" y="403.7" font-size="11.5" text-anchor="middle" fill="#1a1a1a">2.3</text>
<text class="sa" x="360.8" y="403.7" font-size="11.5" text-anchor="middle" fill="#d8434b">1.03</text>
<text class="sa" x="388.0" y="403.7" font-size="11.5" text-anchor="middle" fill="#3a87d6">1.06</text>
<text class="sa" x="415.2" y="403.7" font-size="11.5" text-anchor="middle" fill="#3a87d6">3.72</text>
<rect x="369.4" y="428.1" width="26.9" height="15.4" fill="#f4e1b3"/>
<rect x="396.3" y="428.1" width="27.3" height="15.4" fill="#f1a9ae"/>
<rect x="423.6" y="428.1" width="34.1" height="15.4" fill="#badbf5"/>
<rect x="457.7" y="428.1" width="33.2" height="15.4" fill="#c6dbc6"/>
<text class="sa" x="382.9" y="439.4" font-size="11.5" text-anchor="middle" fill="#1a1a1a">2.09</text>
<text class="sa" x="410.0" y="439.4" font-size="11.5" text-anchor="middle" fill="#d8434b">2.30</text>
<text class="sa" x="440.6" y="439.4" font-size="11.5" text-anchor="middle" fill="#3a87d6">0.589</text>
<text class="sa" x="474.3" y="439.4" font-size="11.5" text-anchor="middle" fill="#3a87d6">3.35</text>
<rect x="392.4" y="477.3" width="33.2" height="16.5" fill="#f4e1b3"/>
<rect x="425.6" y="477.3" width="27.6" height="16.5" fill="#f1a9ae"/>
<rect x="453.2" y="477.3" width="34.2" height="16.5" fill="#badbf5"/>
<rect x="487.4" y="477.3" width="27.2" height="16.5" fill="#c6dbc6"/>
<text class="sa" x="409.0" y="489.1" font-size="11.5" text-anchor="middle" fill="#1a1a1a">0.460</text>
<text class="sa" x="439.4" y="489.1" font-size="11.5" text-anchor="middle" fill="#d8434b">5.33</text>
<text class="sa" x="470.3" y="489.1" font-size="11.5" text-anchor="middle" fill="#3a87d6">0.14</text>
<text class="sa" x="501.0" y="489.1" font-size="11.5" text-anchor="middle" fill="#3a87d6">5.38</text>
<rect x="518.6" y="421.0" width="27.7" height="16.1" fill="#f4e1b3"/>
<rect x="546.3" y="421.0" width="26.8" height="16.1" fill="#f1a9ae"/>
<rect x="573.1" y="421.0" width="28.2" height="16.1" fill="#badbf5"/>
<rect x="601.3" y="421.0" width="34.0" height="16.1" fill="#c6dbc6"/>
<text class="sa" x="532.5" y="432.6" font-size="11.5" text-anchor="middle" fill="#1a1a1a">2.09</text>
<text class="sa" x="559.7" y="432.6" font-size="11.5" text-anchor="middle" fill="#d8434b">2.30</text>
<text class="sa" x="587.2" y="432.6" font-size="11.5" text-anchor="middle" fill="#3a87d6">0.53</text>
<text class="sa" x="618.3" y="432.6" font-size="11.5" text-anchor="middle" fill="#3a87d6">3.16</text>
<rect x="520.7" y="472.9" width="26.8" height="17.1" fill="#f4e1b3"/>
<rect x="547.5" y="472.9" width="33.3" height="17.1" fill="#f1a9ae"/>
<rect x="580.8" y="472.9" width="36.3" height="17.1" fill="#badbf5"/>
<rect x="617.1" y="472.9" width="25.8" height="17.1" fill="#c6dbc6"/>
<text class="sa" x="534.1" y="485.0" font-size="11.5" text-anchor="middle" fill="#1a1a1a">1.36</text>
<text class="sa" x="564.1" y="485.0" font-size="11.5" text-anchor="middle" fill="#d8434b">0.448</text>
<text class="sa" x="599.0" y="485.0" font-size="11.5" text-anchor="middle" fill="#3a87d6">0.255</text>
<text class="sa" x="630.0" y="485.0" font-size="11.5" text-anchor="middle" fill="#3a87d6">2.63</text>
<rect x="357.9" y="535.2" width="34.2" height="16.4" fill="#f4e1b3"/>
<rect x="392.1" y="535.2" width="27.3" height="16.4" fill="#f1a9ae"/>
<rect x="419.4" y="535.2" width="28.2" height="16.4" fill="#badbf5"/>
<rect x="447.6" y="535.2" width="33.4" height="16.4" fill="#c6dbc6"/>
<text class="sa" x="375.0" y="547.0" font-size="11.5" text-anchor="middle" fill="#1a1a1a">0.963</text>
<text class="sa" x="405.8" y="547.0" font-size="11.5" text-anchor="middle" fill="#d8434b">5.33</text>
<text class="sa" x="433.5" y="547.0" font-size="11.5" text-anchor="middle" fill="#3a87d6">0</text>
<text class="sa" x="464.3" y="547.0" font-size="11.5" text-anchor="middle" fill="#3a87d6">2.29</text>
<rect x="458.3" y="554.6" width="34.3" height="15.8" fill="#f4e1b3"/>
<rect x="492.6" y="554.6" width="26.8" height="15.8" fill="#f1a9ae"/>
<rect x="519.4" y="554.6" width="34.5" height="15.8" fill="#badbf5"/>
<rect x="553.9" y="554.6" width="34.6" height="15.8" fill="#c6dbc6"/>
<text class="sa" x="475.5" y="566.1" font-size="11.5" text-anchor="middle" fill="#1a1a1a">1.36</text>
<text class="sa" x="506.0" y="566.1" font-size="11.5" text-anchor="middle" fill="#d8434b">0</text>
<text class="sa" x="536.6" y="566.1" font-size="11.5" text-anchor="middle" fill="#3a87d6">0.191</text>
<text class="sa" x="571.2" y="566.1" font-size="11.5" text-anchor="middle" fill="#3a87d6">2.14</text>
<rect x="440.6" y="589.2" width="35.8" height="16.0" fill="#f4e1b3"/>
<rect x="476.4" y="589.2" width="26.9" height="16.0" fill="#f1a9ae"/>
<rect x="503.3" y="589.2" width="27.6" height="16.0" fill="#badbf5"/>
<rect x="530.9" y="589.2" width="33.8" height="16.0" fill="#c6dbc6"/>
<text class="sa" x="458.5" y="600.8" font-size="11.5" text-anchor="middle" fill="#1a1a1a">0.889</text>
<text class="sa" x="489.9" y="600.8" font-size="11.5" text-anchor="middle" fill="#d8434b">0</text>
<text class="sa" x="517.1" y="600.8" font-size="11.5" text-anchor="middle" fill="#3a87d6">0</text>
<text class="sa" x="547.8" y="600.8" font-size="11.5" text-anchor="middle" fill="#3a87d6">1.69</text>
<rect x="415.0" y="631.3" width="33.8" height="16.0" fill="#f4e1b3"/>
<rect x="448.8" y="631.3" width="28.2" height="16.0" fill="#f1a9ae"/>
<rect x="477.0" y="631.3" width="27.8" height="16.0" fill="#badbf5"/>
<rect x="504.8" y="631.3" width="33.8" height="16.0" fill="#c6dbc6"/>
<text class="sa" x="431.9" y="642.9" font-size="11.5" text-anchor="middle" fill="#1a1a1a">0.889</text>
<text class="sa" x="462.9" y="642.9" font-size="11.5" text-anchor="middle" fill="#d8434b">4.26</text>
<text class="sa" x="490.9" y="642.9" font-size="11.5" text-anchor="middle" fill="#3a87d6">0</text>
<text class="sa" x="521.7" y="642.9" font-size="11.5" text-anchor="middle" fill="#3a87d6">1.69</text>
<path d="M568,490 L570.8,493.2" stroke="#151515" stroke-width="1.65" fill="none" stroke-linecap="round" marker-end="url(#ah)"/>
<rect x="296.6" y="607.6" width="33.8" height="16.8" fill="#f4e1b3"/>
<text class="sa" x="313.5" y="620.1" font-size="11.5" text-anchor="middle" fill="#1a1a1a">0.889</text>
<rect x="296.6" y="625.8" width="33.8" height="15.8" fill="#f1a9ae"/>
<text class="sa" x="313.5" y="637.8" font-size="11.5" text-anchor="middle" fill="#d8434b">11.5</text>
<rect x="296.6" y="643.0" width="33.8" height="14.8" fill="#badbf5"/>
<text class="sa" x="313.5" y="654.5" font-size="11.5" text-anchor="middle" fill="#3a87d6">0</text>
<rect x="296.6" y="658.6" width="33.8" height="16.0" fill="#c6dbc6"/>
<text class="sa" x="313.5" y="670.7" font-size="11.5" text-anchor="middle" fill="#3a87d6">2.20</text>
<text class="sa" x="357.2" y="465.1" font-size="8.6" fill="#111" font-weight="bold" stroke="#111" stroke-width="0.25">NADH</text>
<text class="sa" x="346.5" y="480.9" font-size="8.5" fill="#2a2a2a" text-anchor="start">NAD</text>
<text class="sa" x="361.8" y="488.6" font-size="5.5" fill="#333" text-anchor="start">+</text>
<text class="sa" x="314.4" y="561" font-size="9" fill="#2a2a2a" text-anchor="start">H<tspan font-size="5.5" dy="1.6">2</tspan><tspan dy="-1.6">O</tspan></text>
<text class="sa" x="331.9" y="632.3" font-size="8.5" fill="#111" font-weight="bold" stroke="#111" stroke-width="0.25">FADH<tspan font-size="5.5" dy="1.6">2</tspan></text>
<text class="sa" x="352.4" y="645.6" font-size="8" fill="#2a2a2a" text-anchor="start">FAD</text>
<text class="sa" x="455.6" y="703.8" font-size="8.6" fill="#111" font-weight="bold" stroke="#111" stroke-width="0.25">ATP</text>
<text class="sa" x="480.2" y="704.4" font-size="8.8" fill="#2a2a2a" text-anchor="start">ADP</text>
<text class="sa" x="609.1" y="538.2" font-size="8.6" fill="#111" font-weight="bold" stroke="#111" stroke-width="0.25">CO<tspan font-size="5.5" dy="1.6">2</tspan></text>
<text class="sa" x="609.5" y="549.7" font-size="8.5" fill="#2a2a2a" text-anchor="start">NAD<tspan font-size="5.5" dy="-3">+</tspan></text>
<text class="sa" x="609.1" y="570.8" font-size="7.8" fill="#111" font-weight="bold" stroke="#111" stroke-width="0.25">NADH</text>
<text class="sa" x="596.3" y="624" font-size="8.6" fill="#111" font-weight="bold" stroke="#111" stroke-width="0.25">CO<tspan font-size="5.5" dy="1.6">2</tspan></text>
<text class="sa" x="590.9" y="635.1" font-size="8.4" fill="#2a2a2a" text-anchor="start">NAD</text>
<text class="sa" x="590.4" y="642.2" font-size="5" fill="#555" text-anchor="start">+</text>
<text class="sa" x="582.8" y="653.4" font-size="8.5" fill="#111" font-weight="bold" stroke="#111" stroke-width="0.25">NADH</text>
<text class="se" x="696.8" y="401.5" font-size="13" fill="#111">Biomass</text>
<rect x="666.3" y="412.3" width="28.5" height="16.4" fill="#f4e1b3"/>
<rect x="694.8" y="412.3" width="29.1" height="16.4" fill="#f1a9ae"/>
<rect x="723.9" y="412.3" width="29.0" height="16.4" fill="#badbf5"/>
<rect x="752.9" y="412.3" width="29.1" height="16.4" fill="#c6dbc6"/>
<text class="sa" x="680.5" y="423.6" font-size="10" text-anchor="middle" fill="#1a1a1a" stroke="#1a1a1a" stroke-width="0.35">0.257</text>
<text class="sa" x="709.3" y="423.6" font-size="10" text-anchor="middle" fill="#d8434b">0.262</text>
<text class="sa" x="738.4" y="423.6" font-size="10" text-anchor="middle" fill="#3a87d6">0.137</text>
<text class="sa" x="767.5" y="423.6" font-size="10" text-anchor="middle" fill="#3a87d6">0.262</text>
<rect x="663.3" y="630.9" width="26" height="11.5" fill="#f4e1b3"/>
<text class="se" x="692.7" y="640.5" font-size="13" fill="#000" stroke="#000" stroke-width="0.15"><tspan font-size="8" dy="-4.6">13</tspan><tspan dy="4.6">C</tspan></text>
<rect x="663.3" y="654.6" width="26" height="11.9" fill="#f1a9ae"/>
<text class="se" x="692.7" y="664.4" font-size="13" fill="#000" stroke="#000" stroke-width="0.15">eciYW1475_AP</text>
<rect x="663.3" y="679.5" width="26" height="11.5" fill="#badbf5"/>
<text class="se" x="692.7" y="689.1" font-size="13" fill="#000" stroke="#000" stroke-width="0.15">eciYW1475_DL</text>
<rect x="663.3" y="701.8" width="26" height="11.5" fill="#c6dbc6"/>
<text class="se" x="692.7" y="711.4" font-size="13" fill="#000" stroke="#000" stroke-width="0.15">eciYW1475_TN</text>
</g>
</svg></body></html>
